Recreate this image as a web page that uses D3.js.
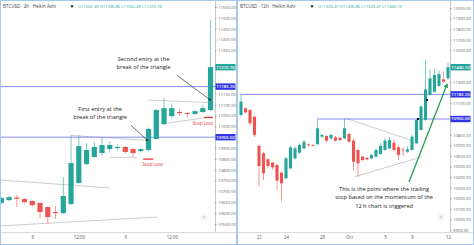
<!DOCTYPE html>
<html>
<head>
<meta charset="utf-8">
<script src="https://cdn.jsdelivr.net/npm/d3@7"></script>
<style>
  body { margin: 0; background: #fff; }
  svg { display: block; font-family: "Open Sans", sans-serif; }
</style>
</head>
<body>
<svg id="grafico" width="474" height="245"></svg>
<script>
// ---- 2h panel: bars every 2 hours, t = hours from Oct 8 00:00, [open, high, low, close]
const h2Start = -8;
const h2Candles = [
  [10647, 10675, 10642, 10670], [10660, 10680, 10655, 10674], [10672, 10683, 10628, 10666],
  [10665, 10670, 10645, 10651], [10656, 10660, 10628, 10637], [10647, 10650, 10577, 10605],
  [10628, 10632, 10550, 10582], [10605, 10633, 10573, 10600], [10600, 10766, 10596, 10679],
  [10642, 10958, 10636, 10831], [10739, 10960, 10735, 10909], [10826, 10923, 10820, 10891],
  [10859, 10927, 10855, 10905], [10877, 10950, 10864, 10914], [10895, 10932, 10880, 10914],
  [10900, 10918, 10890, 10905], [10905, 10910, 10875, 10882], [10895, 10900, 10860, 10877],
  [10886, 10900, 10880, 10895], [10891, 10995, 10886, 10988], [10942, 11080, 10940, 11075],
  [11010, 11130, 11005, 11084], [11047, 11105, 11040, 11084], [11066, 11080, 11050, 11061],
  [11061, 11066, 11040, 11057], [11057, 11075, 11052, 11070], [11066, 11098, 11062, 11084],
  [11075, 11490, 11070, 11273]
];
const h2Ticks = [0, 12, 24, 36];
const h2TickLabels = ["8", "12:00", "9", "12:00"];
const h2Prices = d3.range(10550, 11551, 50);
const h2Levels = [11183.20, 10950.00];
const h2Last = 11272.76;

// ---- 12h panel: d = days from Sep 21 00:00
const h12Start = -2;
const h12Candles = [
  [10988, 11193, 10972, 11114], [11051, 11060, 11000, 11013], [11035, 11045, 10890, 10909],
  [10972, 10980, 10780, 10799], [10695, 10705, 10310, 10505], [10625, 10640, 10373, 10436],
  [10568, 10580, 10490, 10505], [10537, 10545, 10470, 10493], [10515, 10525, 10278, 10367],
  [10442, 10450, 10168, 10341], [10389, 10590, 10380, 10578], [10483, 10700, 10475, 10682],
  [10578, 10690, 10565, 10672], [10631, 10720, 10620, 10704], [10672, 10750, 10665, 10735],
  [10710, 10720, 10690, 10701], [10705, 10715, 10690, 10700], [10713, 10956, 10700, 10862],
  [10783, 10810, 10770, 10799], [10789, 10800, 10730, 10745], [10767, 10815, 10755, 10799],
  [10776, 10790, 10735, 10745], [10773, 10785, 10740, 10751], [10767, 10956, 10760, 10862],
  [10808, 10820, 10725, 10736], [10745, 10760, 10467, 10546], [10657, 10670, 10404, 10531],
  [10594, 10600, 10550, 10562], [10584, 10590, 10560, 10568], [10578, 10620, 10570, 10610],
  [10594, 10670, 10585, 10657], [10619, 10720, 10610, 10695], [10657, 10770, 10650, 10745],
  [10672, 10780, 10665, 10751], [10726, 10760, 10640, 10657], [10682, 10700, 10560, 10610],
  [10660, 10680, 10600, 10655], [10641, 10690, 10630, 10663], [10657, 10800, 10650, 10783],
  [10720, 10950, 10715, 10940], [10846, 11080, 10840, 11067], [10940, 11508, 10935, 11230],
  [11177, 11420, 11170, 11335], [11208, 11420, 11200, 11366], [11262, 11410, 11255, 11376],
  [11325, 11400, 11290, 11303], [11335, 11480, 11320, 11440]
];
const h12Ticks = [0, 3, 7, 10, 14, 17, 21];
const h12TickLabels = ["21", "24", "28", "Oct", "5", "8", "12"];
const h12Prices = d3.range(9900, 12001, 100);
const h12Levels = [11183.20, 10950.00];
const h12LevelStart = [-2, 6.55];
const h12Last = 11440.10;

const alza = "#26a69a", baja = "#ef5350";
const azulNivel = "#7a7ef5", azulEtiqueta = "#2f35e6";
const $svg = d3.select("#grafico");

$svg.append("defs").html(`
  <marker id="flechaNegra" viewBox="0 0 10 10" refX="9" refY="5" markerWidth="4" markerHeight="4" orient="auto">
    <path d="M0,0 L10,5 L0,10 z" fill="#333"/></marker>
  <marker id="flechaVerde" viewBox="0 0 10 10" refX="8" refY="5" markerWidth="3.5" markerHeight="3.5" orient="auto">
    <path d="M0,0 L10,5 L0,10 z" fill="#1e9e4a"/></marker>
  <clipPath id="clipIzq"><rect x="1" y="1" width="214" height="231"/></clipPath>
  <clipPath id="clipDer"><rect x="238" y="1" width="212" height="231"/></clipPath>`);

function panel(p) {
  const g = $svg.append("g");
  const x = d3.scaleLinear().domain(p.xDomain).range(p.xRange);
  const y = d3.scaleLinear().domain(p.yDomain).range(p.yRange);

  // borde del panel
  g.append("rect").attr("x", p.left + 0.5).attr("y", 0.5)
    .attr("width", p.right - p.left - 1).attr("height", 244)
    .attr("fill", "none").attr("stroke", "#a9c8f0").attr("stroke-width", 1);

  const zona = g.append("g").attr("clip-path", `url(#${p.clip})`);

  // lineas de tendencia / triangulos
  p.trend.forEach(l => {
    zona.append("line")
      .attr("x1", x(l[0])).attr("y1", y(l[1]))
      .attr("x2", x(l[2])).attr("y2", y(l[3]))
      .attr("stroke", "#b8b8b8").attr("stroke-width", 0.7);
  });

  // niveles horizontales
  p.levels.forEach((v, i) => {
    zona.append("line")
      .attr("x1", p.levelStart ? x(p.levelStart[i]) : p.left)
      .attr("x2", p.axisX).attr("y1", y(v)).attr("y2", y(v))
      .attr("stroke", azulNivel).attr("stroke-width", 0.9);
  });

  // velas
  const velas = zona.selectAll("g.vela").data(p.candles).join("g").attr("class", "vela")
    .attr("transform", (d, i) => `translate(${x(p.start + p.step * i)},0)`);
  velas.append("line")
    .attr("y1", d => y(d[1])).attr("y2", d => y(d[2]))
    .attr("stroke", d => d[3] >= d[0] ? alza : baja).attr("stroke-width", 0.6);
  velas.append("rect")
    .attr("x", -p.bodyW / 2).attr("width", p.bodyW)
    .attr("y", d => y(Math.max(d[0], d[3])))
    .attr("height", d => Math.max(0.8, Math.abs(y(d[0]) - y(d[3]))))
    .attr("fill", d => d[3] >= d[0] ? alza : baja);

  // stop loss
  (p.stops || []).forEach(s => {
    zona.append("line")
      .attr("x1", x(s[0])).attr("x2", x(s[1])).attr("y1", y(s[2])).attr("y2", y(s[2]))
      .attr("stroke", "#e53935").attr("stroke-width", 1.3);
    zona.append("text").attr("x", x(s[3])).attr("y", y(s[4]))
      .attr("fill", "#e53935").attr("font-size", 4.6).attr("text-anchor", "middle")
      .attr("dominant-baseline", "middle").text("Stop Loss");
  });

  // marcadores
  (p.dots || []).forEach(d => {
    zona.append("rect").attr("x", x(d[0]) - 1).attr("y", y(d[1]) - 1)
      .attr("width", 2).attr("height", 2).attr("fill", "#111");
  });

  // flechas
  p.arrows.forEach(a => {
    zona.append("line")
      .attr("x1", x(a.from[0])).attr("y1", y(a.from[1]))
      .attr("x2", x(a.to[0])).attr("y2", y(a.to[1]))
      .attr("stroke", a.color).attr("stroke-width", a.width)
      .attr("marker-end", `url(#${a.marker})`);
  });

  // textos
  p.notes.forEach(n => {
    n.lines.forEach((t, i) => {
      zona.append("text").attr("x", x(n.at[0])).attr("y", y(n.at[1]) + i * n.gap)
        .attr("font-size", 5.7).attr("fill", "#222").attr("text-anchor", "middle")
        .attr("dominant-baseline", "middle").text(t);
    });
  });

  // icono
  g.append("circle").attr("cx", p.iconX).attr("cy", 217).attr("r", 3)
    .attr("fill", "#fff").attr("stroke", "#ddd").attr("stroke-width", 0.6);
  g.append("circle").attr("cx", p.iconX).attr("cy", 217).attr("r", 1)
    .attr("fill", "none").attr("stroke", "#999").attr("stroke-width", 0.5);

  // eje de precios (se ocultan las marcas tapadas por las etiquetas de color)
  const marcadas = [p.last].concat(p.levels);
  const visibles = p.prices.filter(v => marcadas.every(m => Math.abs(y(v) - y(m)) > 6.5));
  const ejeY = g.append("g").attr("transform", `translate(${p.axisX},0)`)
    .call(d3.axisRight(y).tickValues(visibles).tickSize(1.5).tickPadding(1.5)
      .tickFormat(d3.format(".2f")));
  ejeY.select(".domain").attr("stroke", "#c8c8c8").attr("d", `M0.5,0V232`);
  ejeY.selectAll(".tick line").attr("stroke", "#999");
  ejeY.selectAll("text").attr("font-size", 4.2).attr("fill", "#666")
    .attr("font-family", "Open Sans, sans-serif");

  const etiqueta = (v, color, txt) => {
    g.append("rect").attr("x", p.axisX + 0.5).attr("y", y(v) - 3.2)
      .attr("width", 20).attr("height", 6.4).attr("fill", color);
    g.append("text").attr("x", p.axisX + 10.5).attr("y", y(v) + 0.2)
      .attr("font-size", 4.3).attr("fill", "#fff").attr("text-anchor", "middle")
      .attr("dominant-baseline", "middle").attr("font-weight", 600).text(txt);
  };
  etiqueta(p.last, alza, p.last.toFixed(2));
  p.levels.forEach(v => etiqueta(v, azulEtiqueta, v.toFixed(2)));

  // eje de tiempo
  const ejeX = g.append("g").attr("transform", "translate(0,232)")
    .call(d3.axisBottom(x).tickValues(p.ticks).tickSize(0).tickPadding(4)
      .tickFormat((d, i) => p.tickLabels[i]));
  ejeX.select(".domain").remove();
  ejeX.selectAll("text").attr("font-size", 4.4).attr("fill", "#555")
    .attr("font-family", "Open Sans, sans-serif");
  g.append("line").attr("x1", p.left + 1).attr("x2", p.right - 1)
    .attr("y1", 232.5).attr("y2", 232.5).attr("stroke", "#d0d0d0").attr("stroke-width", 0.8);

  // titulo
  g.append("text").attr("x", p.left + 3).attr("y", 6.5)
    .attr("font-size", 4.5).attr("fill", "#444").attr("dominant-baseline", "middle")
    .text(p.title);
  g.append("circle").attr("cx", p.left + p.dotOff).attr("cy", 6.3).attr("r", 1.3).attr("fill", "#1b5e20");
  g.append("text").attr("x", p.left + p.dotOff + 6).attr("y", 6.5)
    .attr("font-size", 4.1).attr("fill", alza).attr("dominant-baseline", "middle").text(p.ohlc);
}

panel({
  left: 0, right: 237, axisX: 215, clip: "clipIzq", iconX: 204,
  xDomain: [0, 36], xRange: [32.3, 171.8],
  yDomain: [10550, 11550], yRange: [224, 7],
  start: h2Start, step: 2, bodyW: 5.2, candles: h2Candles,
  prices: h2Prices, levels: h2Levels, last: h2Last,
  ticks: h2Ticks, tickLabels: h2TickLabels,
  title: "BTCUSD · 2h · Heikin Ashi", dotOff: 72,
  ohlc: "O11062.49 H11296.86 L11062.49 C11272.76",
  trend: [
    [-8.3, 10753, 20.05, 10716],
    [-8.3, 10541, 32.2, 10582],
    [10, 10958, 30, 10935],
    [20, 10857, 27, 10857],
    [29.9, 11121, 46.6, 11109],
    [35, 11015, 45.9, 11043]
  ],
  stops: [[28.6, 31.2, 10849, 31.1, 10822], [44.3, 46.6, 11041, 44.05, 11011]],
  arrows: [
    { from: [25.4, 11006], to: [29.9, 10932], color: "#333", width: 0.7, marker: "flechaNegra" },
    { from: [37.3, 11236], to: [46.1, 11119], color: "#333", width: 0.7, marker: "flechaNegra" }
  ],
  notes: [
    { at: [17.5, 11080], gap: 8, lines: ["First entry at the", "break of the triangle"] },
    { at: [28.7, 11310], gap: 8, lines: ["Second entry at the", "break of the triangle"] }
  ]
});

panel({
  left: 237, right: 474, axisX: 450, clip: "clipDer", iconX: 441,
  xDomain: [0, 21], xRange: [259, 448],
  yDomain: [9900, 12000], yRange: [230, 8],
  start: h12Start, step: 0.5, bodyW: 3.1, candles: h12Candles,
  prices: h12Prices, levels: h12Levels, levelStart: h12LevelStart, last: h12Last,
  ticks: h12Ticks, tickLabels: h12TickLabels,
  title: "BTCUSD · 12h · Heikin Ashi", dotOff: 75,
  ohlc: "O11320.47 H11496.86 L11320.47 C11440.10",
  trend: [
    [9.7, 10956, 17.03, 10745],
    [10.63, 10404, 18.14, 10593]
  ],
  dots: [[17.67, 10950], [18.67, 11130]],
  arrows: [
    { from: [16.67, 10354], to: [20.9, 11280], color: "#1e9e4a", width: 1.3, marker: "flechaVerde" }
  ],
  notes: [
    { at: [13.9, 10288], gap: 8.5, lines: ["This is the point where the trailing",
      "stop based on the momentum of the", "12 h chart is triggered"] }
  ]
});
</script>
</body>
</html>
